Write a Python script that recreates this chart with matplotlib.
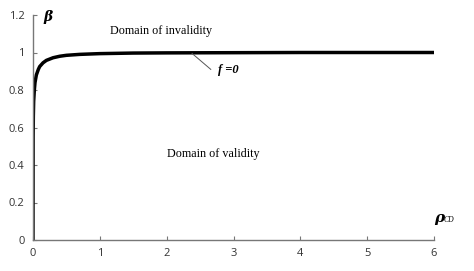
import matplotlib
matplotlib.use('Agg')
import matplotlib.pyplot as plt

# curve f=0
rho = [0, 0.002, 0.005, 0.01, 0.02, 0.03, 0.05, 0.08, 0.1, 0.15, 0.2, 0.3, 0.4, 0.5, 0.7, 1, 1.5, 2, 3, 4, 5, 6]
beta = [0, 0.55, 0.66, 0.74, 0.80, 0.84, 0.88, 0.91, 0.925, 0.945, 0.958, 0.972, 0.980, 0.985, 0.990, 0.994, 0.997, 0.998, 0.999, 1.0, 1.0, 1.0]

xticks = [0, 1, 2, 3, 4, 5, 6]
yticks = [0, 0.2, 0.4, 0.6, 0.8, 1, 1.2]
ytick_labels = ['0', '0.2', '0.4', '0.6', '0.8', '1', '1.2']

fig = plt.figure(figsize=(4.74, 2.71), dpi=100)
ax = fig.add_axes([33/474, 31/271, 401/474, 225/271])

ax.plot(rho, beta, color='black', lw=2.5, solid_capstyle='butt')

ax.set_xlim(0, 6)
ax.set_ylim(0, 1.2)
ax.set_xticks(xticks)
ax.set_yticks(yticks)
ax.set_yticklabels(ytick_labels)
for s in ['top', 'right']:
    ax.spines[s].set_visible(False)
for s in ['left', 'bottom']:
    ax.spines[s].set_color('#777777')
    ax.spines[s].set_linewidth(1.0)
ax.tick_params(direction='in', length=3, color='#777777', labelsize=8, labelcolor='#333333', pad=6)
for lab in ax.get_xticklabels() + ax.get_yticklabels():
    lab.set_family('Open Sans')

serif = 'Liberation Serif'
ax.text(1.92, 1.115, 'Domain of invalidity', family=serif, fontsize=8.7, ha='center', va='center')
ax.text(2.7, 0.46, 'Domain of validity', family=serif, fontsize=8.7, ha='center', va='center')
ax.plot([2.38, 2.66], [0.995, 0.91], color='#555555', lw=0.7)
ax.text(2.92, 0.905, 'f =0', family=serif, style='italic', weight='bold', fontsize=9, ha='center', va='center')
ax.text(0.22, 1.19, 'β', family='DejaVu Serif', style='italic', weight='bold', fontsize=10, ha='center', va='center')
ax.text(6.08, 0.115, 'ρ', family='DejaVu Serif', style='italic', weight='bold', fontsize=11, ha='center', va='center', clip_on=False)
ax.text(6.15, 0.105, 'CD', family=serif, style='italic', fontsize=5.5, ha='left', va='center', clip_on=False)

fig.savefig('out.png', dpi=100)
